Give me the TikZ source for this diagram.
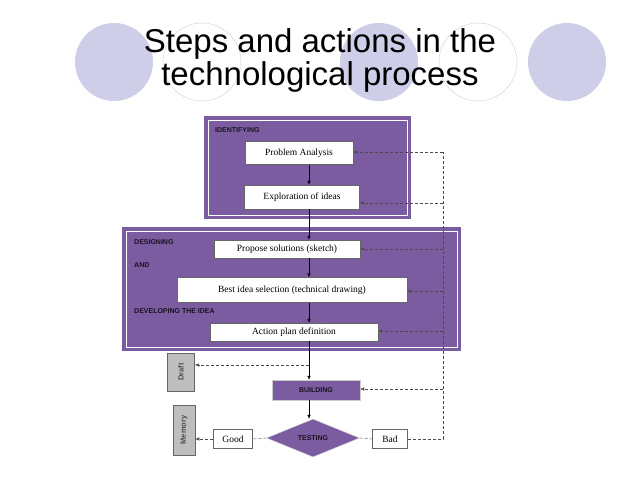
\documentclass[tikz,border=0pt]{standalone}
\usepackage{fontspec}
\setmainfont{Liberation Sans}
\newfontfamily\serifb{Liberation Serif}
\usetikzlibrary{shapes.geometric,arrows.meta}
\definecolor{pur}{RGB}{124,92,160}
\definecolor{lav}{RGB}{206,206,232}
\definecolor{grb}{RGB}{190,190,190}
\begin{document}
\begin{tikzpicture}[x=1pt,y=-1pt,
  stp/.style={draw=black!60,fill=white,font=\serifb\fontsize{9.5}{11}\selectfont,inner sep=0pt},
  lab/.style={font=\bfseries\fontsize{7}{8}\selectfont,text=black!80!pur,anchor=west,inner sep=0pt},
  side/.style={draw=black!60,fill=grb,line width=0.8pt,inner sep=0pt,font=\bfseries\fontsize{7.5}{8}\selectfont,text=black!70},
  flow/.style={-{Latex[length=4pt,width=3.5pt]},thin},
  dsh/.style={densely dashed,thin,black!70},
  dar/.style={dsh,-{Latex[length=4pt,width=3.5pt]}}]
\useasboundingbox (0,0) rectangle (638,479);
\fill[white] (0,0) rectangle (638,479);
% circles
\fill[lav] (114,62) circle (39);
\draw[lav,thin] (202,62) circle (39);
\fill[lav] (379,62) circle (39);
\draw[lav,thin] (478,62) circle (39);
\fill[lav] (567,62) circle (39);
\node (title) at (320,60) [align=center,font=\fontsize{33}{33}\selectfont] {Steps and actions in the\\technological process};
% panels
\draw[pur,fill=pur,line width=1.5pt] (205,117) rectangle (410,218);
\draw[white,line width=0.8pt] (208,120) rectangle (407,215);
\draw[pur,fill=pur,line width=1.5pt] (123,228) rectangle (460,350);
\draw[white,line width=0.8pt] (126,231) rectangle (457,347);
\node[lab] (l1) at (215,130) {IDENTIFYING};
\node[lab] (l2) at (134,242) {DESIGNING};
\node[lab] (l3) at (134,265) {AND};
\node[lab] (l4) at (134,311) {DEVELOPING THE IDEA};
% steps
\node[stp,minimum width=108,minimum height=23] (pa) at (299,153) {Problem Analysis};
\node[stp,minimum width=115,minimum height=24] (ex) at (302,197) {Exploration of ideas};
\node[stp,minimum width=146,minimum height=18] (ps) at (287,249) {Propose solutions (sketch)};
\node[stp,minimum width=230,minimum height=25] (bi) at (292,290) {Best idea selection (technical drawing)};
\node[stp,minimum width=168,minimum height=18] (ap) at (294,332) {Action plan definition};
\node[draw=black!20,fill=pur,minimum width=88,minimum height=20,inner sep=0pt,font=\bfseries\fontsize{7}{8}\selectfont,text=black!80!pur] (bu) at (316,390) {BUILDING};
\node[diamond,draw=black!15,fill=pur,minimum width=93,minimum height=38,inner sep=0pt,aspect=2.4,font=\bfseries\fontsize{7}{8}\selectfont,text=black!80!pur] (te) at (313,438) {TESTING};
\node[stp,minimum width=39,minimum height=19] (go) at (233,439) {Good};
\node[stp,minimum width=35,minimum height=19] (ba) at (390,439) {Bad};
\node[side,minimum width=27,minimum height=38] (dr) at (181,372) {\rotatebox{90}{Draft}};
\node[side,minimum width=22,minimum height=50] (me) at (184,430) {\rotatebox{90}{Memory}};
% flow
\coordinate (d1) at (309,365);
\draw[flow] (pa.south-|d1) -- (ex.north-|d1);
\draw[flow] (ex.south-|d1) -- (ps.north-|d1);
\draw[flow] (ps.south-|d1) -- (bi.north-|d1);
\draw[flow] (bi.south-|d1) -- (ap.north-|d1);
\draw[flow] (ap.south-|d1) -- (bu.north-|d1);
\draw[flow] (bu.south-|d1) -- (te.north-|d1);
\draw[dar] (d1) -- (dr.east|-d1);
\draw[dsh] (te.west) -- (go.east);
\draw[dar] (go.west) -- (me.east|-go.west);
\draw[dsh] (te.east) -- (ba.west);
\coordinate (r0) at (443,439);
\coordinate (r1) at (443,152);
\coordinate (r2) at (443,203);
\coordinate (r3) at (443,249);
\coordinate (r4) at (443,291);
\coordinate (r5) at (443,331);
\coordinate (r6) at (443,389);
\draw[dsh] (ba.east) -- (r0) -- (r1);
\draw[dar] (r1) -- (pa.east|-r1);
\draw[dar] (r2) -- (ex.east|-r2);
\draw[dar] (r3) -- (ps.east|-r3);
\draw[dar] (r4) -- (bi.east|-r4);
\draw[dar] (r5) -- (ap.east|-r5);
\draw[dar] (r6) -- (bu.east|-r6);
\end{tikzpicture}
\end{document}
